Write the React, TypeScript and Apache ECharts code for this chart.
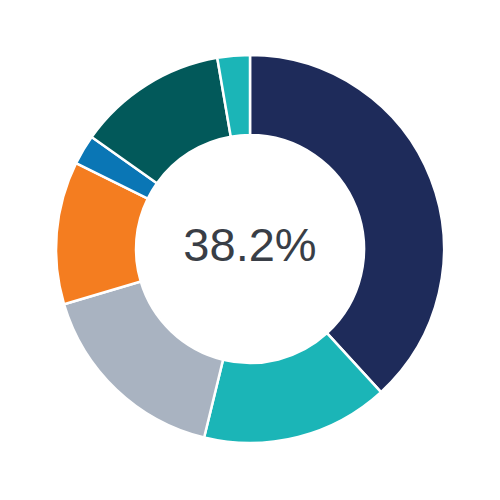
import React, { useEffect, useRef } from "react";
import * as echarts from "echarts";

const categories = ["A", "B", "C", "D", "E", "F", "G"];
const values = [38.2, 15.6, 16.6, 11.9, 2.5, 12.5, 2.7];
const colors = ["#1e2b5a", "#1bb5b7", "#a9b3c1", "#f47d20", "#0a76b5", "#02595a", "#1bb5b7"];
const centerLabel = "38.2%";

export default function App() {
  const ref = useRef<HTMLDivElement>(null);
  useEffect(() => {
    document.body.style.margin = "0";
    const chart = echarts.init(ref.current!, null, { renderer: "svg" });
    chart.setOption({
      animation: false,
      backgroundColor: "#ffffff",
      graphic: [
        {
          type: "text",
          left: "center",
          top: 221,
          style: {
            text: centerLabel,
            fontSize: 47,
            fontFamily: "'Liberation Sans', Arial, sans-serif",
            fill: "#393e46",
          },
        },
      ],
      series: [
        {
          type: "pie",
          radius: [114, 194],
          center: [250, 249],
          startAngle: 90,
          clockwise: true,
          label: { show: false },
          labelLine: { show: false },
          emphasis: { disabled: true },
          itemStyle: { borderColor: "#ffffff", borderWidth: 2.5 },
          data: categories.map((c, i) => ({
            name: c,
            value: values[i],
            itemStyle: { color: colors[i] },
          })),
        },
      ],
    });
    return () => chart.dispose();
  }, []);
  return <div ref={ref} style={{ width: 500, height: 500 }} />;
}
